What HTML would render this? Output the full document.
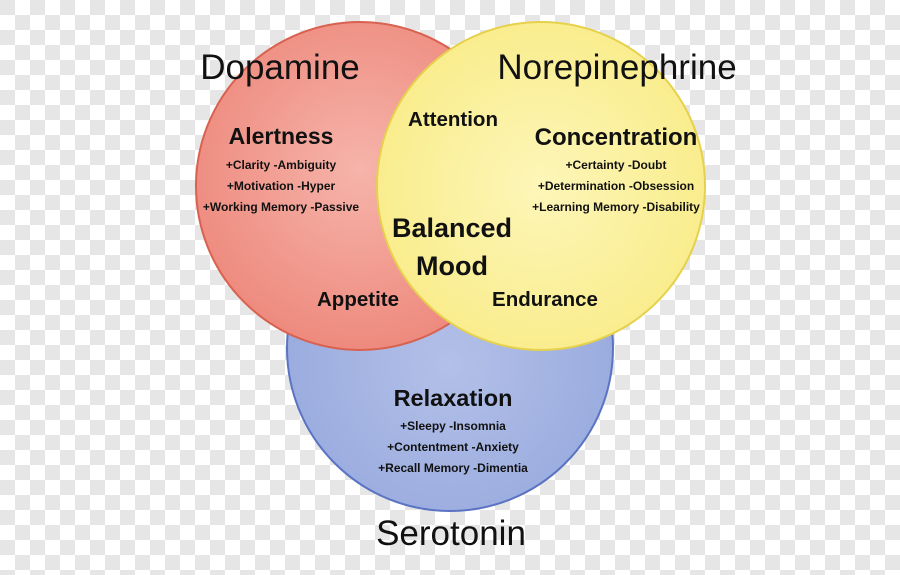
<!DOCTYPE html>
<html><head><meta charset="utf-8"><style>
html,body{margin:0;padding:0}
body{width:900px;height:575px;overflow:hidden;background-color:#fff;
background-image:conic-gradient(#fff 25%,#e6e6e6 0 50%,#fff 0 75%,#e6e6e6 0);background-size:30px 30px;}
svg{display:block}
text{font-family:"Liberation Sans",sans-serif;fill:#111}
.b{font-weight:bold}
</style></head><body>
<svg width="900" height="575" viewBox="0 0 900 575">
<defs>
<radialGradient id="gr" cx="0.5" cy="0.45" r="0.55"><stop offset="0" stop-color="#f6b4aa"/><stop offset="1" stop-color="#ee8a7e"/></radialGradient>
<radialGradient id="gy" cx="0.5" cy="0.5" r="0.55"><stop offset="0" stop-color="#fdf6b8"/><stop offset="1" stop-color="#f9ec8a"/></radialGradient>
<radialGradient id="gb" cx="0.5" cy="0.55" r="0.55"><stop offset="0" stop-color="#b3c0e8"/><stop offset="1" stop-color="#98aade"/></radialGradient>
</defs>
<circle cx="450" cy="348" r="163" fill="url(#gb)" stroke="#5b73c2" stroke-width="2"/>
<circle cx="360" cy="186" r="164" fill="url(#gr)" stroke="#d9614f" stroke-width="2"/>
<circle cx="541" cy="186" r="164" fill="url(#gy)" stroke="#e6d14c" stroke-width="2"/>
<text x="280" y="79" font-size="35" text-anchor="middle">Dopamine</text>
<text x="617" y="79" font-size="35" text-anchor="middle">Norepinephrine</text>
<text x="451" y="545" font-size="35" text-anchor="middle">Serotonin</text>
<text class="b" x="281" y="144" font-size="23" text-anchor="middle">Alertness</text>
<text class="b" x="281" y="169" font-size="12" text-anchor="middle">+Clarity -Ambiguity</text>
<text class="b" x="281" y="190" font-size="12" text-anchor="middle">+Motivation -Hyper</text>
<text class="b" x="281" y="211" font-size="12" text-anchor="middle">+Working Memory -Passive</text>
<text class="b" x="453" y="126" font-size="20.5" text-anchor="middle">Attention</text>
<text class="b" x="616" y="145" font-size="24" text-anchor="middle">Concentration</text>
<text class="b" x="616" y="169" font-size="12" text-anchor="middle">+Certainty -Doubt</text>
<text class="b" x="616" y="190" font-size="12" text-anchor="middle">+Determination -Obsession</text>
<text class="b" x="616" y="211" font-size="12" text-anchor="middle">+Learning Memory -Disability</text>
<text class="b" x="452" y="237" font-size="27" text-anchor="middle">Balanced</text>
<text class="b" x="452" y="275" font-size="27" text-anchor="middle">Mood</text>
<text class="b" x="358" y="306" font-size="20.5" text-anchor="middle">Appetite</text>
<text class="b" x="545" y="306" font-size="20.5" text-anchor="middle">Endurance</text>
<text class="b" x="453" y="406" font-size="23.5" text-anchor="middle">Relaxation</text>
<text class="b" x="453" y="430" font-size="12" text-anchor="middle">+Sleepy -Insomnia</text>
<text class="b" x="453" y="451" font-size="12" text-anchor="middle">+Contentment -Anxiety</text>
<text class="b" x="453" y="472" font-size="12" text-anchor="middle">+Recall Memory -Dimentia</text>
</svg>
</body></html>
